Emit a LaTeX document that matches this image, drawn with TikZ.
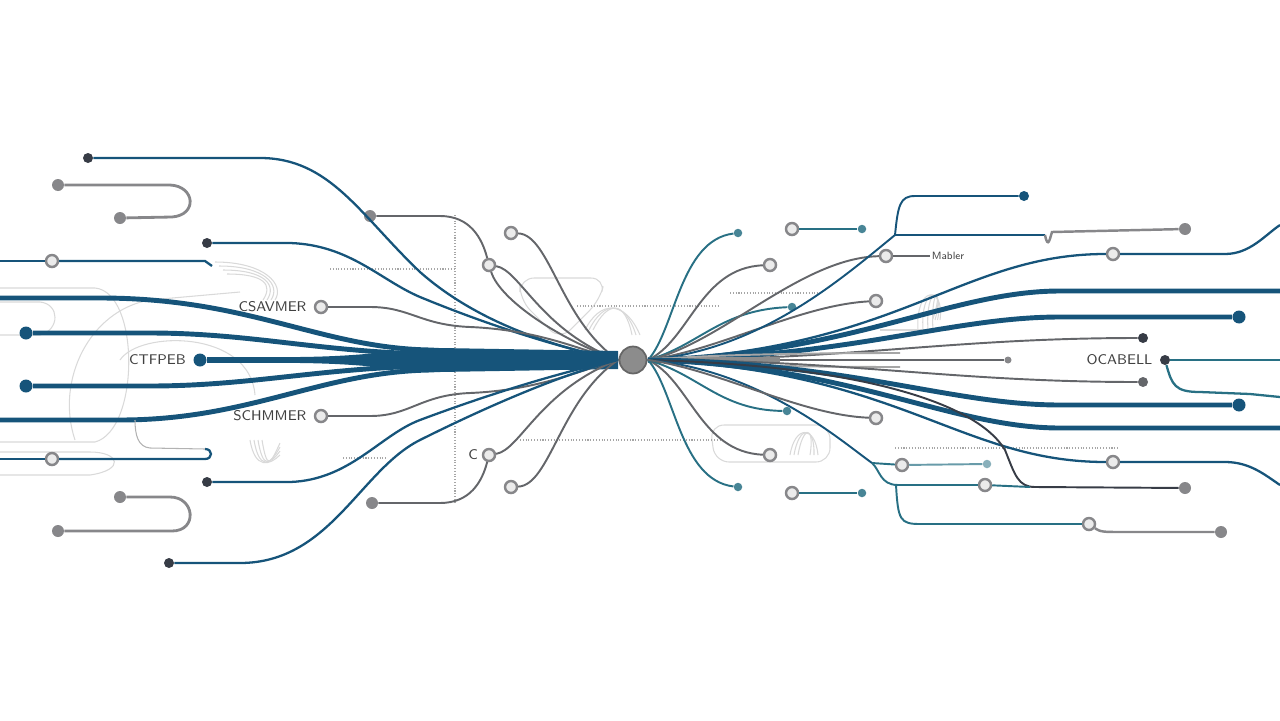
\documentclass[tikz,border=0pt]{standalone}
\usetikzlibrary{positioning}
\definecolor{wire}{RGB}{22,84,122}
\definecolor{tealw}{RGB}{40,112,132}
\definecolor{greyw}{RGB}{100,102,106}
\definecolor{beaddark}{RGB}{55,60,70}
\definecolor{beadgrey}{RGB}{135,135,138}
\begin{document}
\begin{tikzpicture}[x=0.02cm,y=-0.02cm,
  bead/.style={circle,fill=beaddark,inner sep=0pt,minimum size=0.2cm},
  greybead/.style={bead,fill=beadgrey,minimum size=0.24cm},
  bluebead/.style={bead,fill=wire,minimum size=0.26cm},
  tealbead/.style={bead,fill=tealw!85,minimum size=0.17cm},
  eyelet/.style={circle,draw=beadgrey,line width=1.4pt,fill=black!8,inner sep=0pt,minimum size=0.24cm},
  lab/.style={font=\sffamily\fontsize{8}{9}\selectfont,text=black!75,inner sep=1pt},
  wirethin/.style={draw=wire,line width=1.3pt},
  wirebold/.style={draw=wire,line width=2.8pt},
  greywire/.style={draw=greyw,line width=1.1pt},
  tealwire/.style={draw=tealw,line width=1.1pt},
  faintline/.style={draw=black!15,line width=0.6pt},
  dots/.style={draw=black!35,line width=0.6pt,densely dotted}]
\useasboundingbox (0,0) rectangle (1280,720);
\coordinate (hw) at (618,360);
\coordinate (he) at (648,360);

\draw[faintline] (0,288) -- (95,288) .. controls (140,292) and (140,430) .. (95,442) -- (0,442);
\draw[faintline] (0,302) -- (40,302) .. controls (60,304) and (60,330) .. (40,335) -- (0,335);
\draw[faintline] (0,452) -- (90,452) .. controls (120,452) and (125,470) .. (90,475) -- (0,475);
\draw[faintline] (75,440) .. controls (55,380) and (90,310) .. (150,300) -- (240,292);
\draw[faintline] (120,360) .. controls (140,330) and (250,330) .. (255,395);
\foreach \i in {0,4,8,12}
  \draw[faintline] (215+\i,262+\i) .. controls (265,262+\i) and (285-\i,285) .. (275-\i,300);
\foreach \i in {0,4,8,12}
  \draw[faintline] (250+\i,440) .. controls (255+\i,470) and (270,465) .. (280,455-\i);
\foreach \i in {0,5,10,15}
  \draw[faintline] (918+\i,330) .. controls (915+\i,285) and (945,285) .. (940-\i/2,320);
\draw[faintline] (880,330) -- (950,330);
\draw[faintline,rounded corners=8pt] (520,278) -- (605,278) -- (600,300) -- (560,340) -- (520,300) -- cycle;
\foreach \i in {0,4,8}
  \draw[faintline] (585+\i,330) .. controls (600+\i,300) and (625,300) .. (640-\i,335);
\draw[faintline,rounded corners=8pt] (710,425) -- (830,425) -- (830,462) -- (715,462) -- cycle;
\foreach \i in {0,4,8}
  \draw[faintline] (790+\i,455) .. controls (795+\i,425) and (815,425) .. (818-\i,455);

\draw[dots] (455,215) -- (455,503);
\draw[dots] (330,269) -- (455,269);
\draw[dots] (577,306) -- (720,306);
\draw[dots] (520,440) -- (720,440);
\draw[dots] (730,293) -- (820,293);
\draw[dots] (895,448) -- (1118,448);
\draw[dots] (343,458) -- (387,458);

\node[bead] (l1) at (88,158) {};
\node[greybead] (g1) at (58,185) {};
\node[greybead] (g2) at (120,218) {};
\node[bead] (l3) at (207,243) {};
\node[greybead] (l4) at (370,216) {};
\node[eyelet] (l5) at (52,261) {};
\node[eyelet] (l6) at (511,233) {};
\node[eyelet] (l7) at (489,265) {};
\node[eyelet] (l9) at (321,307) {};
\node[lab,left=3pt of l9] {CSAVMER};
\node[bluebead] (l10) at (26,333) {};
\node[bluebead] (l11) at (200,360) {};
\node[lab,left=3pt of l11] {CTFPEB};
\node[bluebead] (l12) at (26,386) {};
\node[eyelet] (l14) at (321,416) {};
\node[lab,left=3pt of l14] {SCHMMER};
\node[eyelet] (l15) at (52,459) {};
\node[bead] (l16) at (207,482) {};
\node[eyelet] (l17) at (489,455) {};
\node[lab,left=1pt of l17] {C};
\node[eyelet] (l18) at (511,487) {};
\node[greybead] (l19) at (372,503) {};
\node[greybead] (g3) at (120,497) {};
\node[greybead] (g4) at (58,531) {};
\node[bead] (l21) at (169,563) {};
\coordinate (e5) at (0,261);
\coordinate (e8) at (0,298);
\coordinate (e13) at (0,420);
\coordinate (e15) at (0,459);

\draw[wirethin] (l1) -- (260,158) .. controls (330,158) and (360,215) .. (420,272) .. controls (480,325) and (560,348) .. (hw);
\draw[greywire,line width=1.6pt,draw=beadgrey] (g1) -- (170,185) .. controls (195,186) and (198,215) .. (172,217) -- (g2);
\draw[wirethin] (l3) -- (290,243) .. controls (350,245) and (380,280) .. (420,297) .. controls (500,330) and (570,350) .. (hw);
\draw[greywire] (l4) -- (440,216) .. controls (470,216) and (482,238) .. (l7);
\draw[wirethin] (e5) -- (l5);
\draw[wirethin] (l5) -- (205,261) -- (212,266);
\draw[greywire] (l6) .. controls (550,235) and (560,320) .. (hw);
\draw[greywire] (l7) .. controls (520,270) and (540,330) .. (hw);
\draw[greywire] (l7) .. controls (500,300) and (560,340) .. (hw);
\draw[wirebold] (e8) -- (100,298) .. controls (250,298) and (320,348) .. (430,350) -- (hw);
\draw[greywire] (l9) -- (370,307) .. controls (410,307) and (420,325) .. (470,327) .. controls (540,330) and (580,350) .. (hw);
\draw[wirebold] (l10) -- (150,333) .. controls (250,333) and (320,352) .. (430,354) -- (hw);
\fill[wire] (300,357) .. controls (380,356) and (400,348) .. (440,348) -- (618,351) -- (618,369) -- (440,372) .. controls (400,372) and (380,364) .. (300,363) -- cycle;
\draw[wire,line width=3.5pt] (l11) -- (hw);
\draw[wirebold] (l12) -- (150,386) .. controls (250,386) and (320,368) .. (430,366) -- (hw);
\draw[wirebold] (e13) -- (120,420) .. controls (250,420) and (320,372) .. (430,370) -- (hw);
\draw[greywire] (l14) -- (370,416) .. controls (410,416) and (420,395) .. (470,393) .. controls (540,390) and (580,370) .. (hw);
\draw[wirethin] (e15) -- (l15);
\draw[wirethin] (l15) -- (205,459) .. controls (213,459) and (213,449) .. (205,449);
\draw[faintline,draw=black!30] (205,449) -- (150,448) .. controls (138,447) and (135,435) .. (135,420);
\draw[wirethin] (l16) -- (290,482) .. controls (350,480) and (380,435) .. (420,420) .. controls (500,390) and (570,370) .. (hw);
\draw[greywire] (l17) .. controls (520,450) and (540,390) .. (hw);
\draw[greywire] (l18) .. controls (550,485) and (560,400) .. (hw);
\draw[greywire] (l19) -- (440,503) .. controls (470,503) and (482,482) .. (l17);
\draw[greywire,line width=1.6pt,draw=beadgrey] (g3) -- (170,497) .. controls (195,497) and (198,531) .. (172,531) -- (g4);
\draw[wirethin] (l21) -- (240,563) .. controls (330,563) and (360,470) .. (420,440) .. controls (500,400) and (570,372) .. (hw);

\node[tealbead] (r1) at (738,233) {};
\node[eyelet] (r2) at (792,229) {};
\node[tealbead] (r2b) at (862,229) {};
\node[eyelet] (r3) at (770,265) {};
\node[tealbead] (r4) at (792,307) {};
\node[eyelet] (r5) at (876,301) {};
\node[eyelet] (r6) at (886,256) {};
\node[lab,font=\sffamily\fontsize{6}{7}\selectfont] (m6) at (948,256) {Mabler};
\node[bead,fill=wire] (r7) at (1024,196) {};
\node[greybead] (r8) at (1185,229) {};
\node[eyelet] (r9) at (1113,254) {};
\node[bluebead] (r11) at (1239,317) {};
\node[bead] (r12) at (1143,338) {};
\node[bead,fill=beadgrey,minimum size=0.14cm] (r13) at (1008,360) {};
\node[bead] (r14) at (1165,360) {};
\node[lab,left=3pt of r14] {OCABELL};
\node[bead,fill=greyw] (r15) at (1143,382) {};
\node[bluebead] (r16) at (1239,405) {};
\node[eyelet] (r18) at (1113,462) {};
\node[greybead] (r19) at (1185,488) {};
\node[eyelet] (r20) at (902,465) {};
\node[tealbead,fill=tealw!55] (r20b) at (987,464) {};
\node[eyelet] (r21) at (985,485) {};
\node[eyelet] (r27) at (1089,524) {};
\node[greybead] (r28) at (1221,532) {};
\node[eyelet] (r22) at (770,455) {};
\node[tealbead] (r23) at (738,487) {};
\node[eyelet] (r24) at (792,493) {};
\node[tealbead] (r24b) at (862,493) {};
\node[tealbead] (r25) at (787,411) {};
\node[eyelet] (r26) at (876,418) {};
\coordinate (k0) at (895,235);
\coordinate (k1) at (872,463);
\coordinate (x9) at (1280,225);
\coordinate (x10) at (1280,291);
\coordinate (x14) at (1280,360);
\coordinate (x14b) at (1280,397);
\coordinate (x17) at (1280,428);
\coordinate (x18) at (1280,485);

\draw[tealwire] (he) .. controls (675,330) and (680,240) .. (r1);
\draw[tealwire] (r2) -- (r2b);
\draw[greywire] (he) .. controls (690,340) and (700,268) .. (r3);
\draw[tealwire] (he) .. controls (700,345) and (720,310) .. (r4);
\draw[greywire] (he) .. controls (720,350) and (800,305) .. (r5);
\draw[greywire] (he) .. controls (720,345) and (800,258) .. (r6);
\draw[greywire,line width=0.6pt] (r6) -- (m6);
\draw[wirethin,line width=1.1pt] (he) .. controls (760,350) and (840,280) .. (k0) -- (1045,235);
\draw[wirethin,line width=1.1pt] (k0) .. controls (898,205) and (900,196) .. (915,196) -- (r7);
\draw[greywire,line width=1.4pt,draw=beadgrey] (1045,235) .. controls (1048,250) and (1050,238) .. (1052,232) -- (r8);
\draw[wirethin] (he) .. controls (900,350) and (960,254) .. (r9);
\draw[wirethin] (r9) -- (1225,254) .. controls (1250,254) and (1265,235) .. (x9);
\draw[wirebold] (he) .. controls (850,355) and (950,291) .. (1060,291) -- (x10);
\draw[wirebold] (he) .. controls (850,358) and (950,317) .. (1060,317) -- (r11);
\draw[greywire] (he) .. controls (850,360) and (950,338) .. (r12);
\draw[greywire,line width=0.9pt] (he) -- (r13);
\draw[greywire,line width=3pt,draw=black!45] (he) -- (780,360);
\draw[greywire,draw=black!35] (he) .. controls (700,355) and (800,353) .. (900,353);
\draw[greywire,draw=black!35] (he) .. controls (700,365) and (800,367) .. (900,367);
\draw[tealwire,line width=1.3pt] (r14) -- (x14);
\draw[tealwire,line width=1.3pt] (r14) .. controls (1172,385) and (1175,392) .. (1200,392) -- (1250,394) -- (x14b);
\draw[greywire] (he) .. controls (850,360) and (950,382) .. (r15);
\draw[wirebold] (he) .. controls (850,362) and (950,405) .. (1060,405) -- (r16);
\draw[wirebold] (he) .. controls (850,365) and (950,428) .. (1060,428) -- (x17);
\draw[wirethin] (he) .. controls (900,370) and (960,462) .. (r18);
\draw[wirethin] (r18) -- (1225,462) .. controls (1250,462) and (1265,475) .. (x18);
\draw[greywire,draw=beaddark] (he) .. controls (850,365) and (975,400) .. (1005,450) .. controls (1015,475) and (1018,487) .. (1035,487) -- (r19);
\draw[wirethin,line width=1.1pt] (he) .. controls (760,370) and (840,440) .. (k1);
\draw[tealwire] (k1) -- (r20);
\draw[tealwire,draw=tealw!70] (r20) -- (r20b);
\draw[tealwire] (k1) .. controls (880,470) and (880,485) .. (898,485) -- (r21);
\draw[tealwire] (r21) -- (1030,487);
\draw[tealwire] (896,485) .. controls (898,520) and (900,524) .. (920,524) -- (r27);
\draw[greywire,draw=beadgrey,line width=1.4pt] (r27) .. controls (1100,532) and (1105,532) .. (1120,532) -- (r28);
\draw[greywire] (he) .. controls (690,380) and (700,452) .. (r22);
\draw[tealwire] (he) .. controls (675,390) and (680,480) .. (r23);
\draw[tealwire] (r24) -- (r24b);
\draw[tealwire] (he) .. controls (700,375) and (720,410) .. (r25);
\draw[greywire] (he) .. controls (720,370) and (800,415) .. (r26);

\node[circle,fill=black!45,draw=black!60,line width=1pt,minimum size=0.54cm] (hub) at (633,360) {};
\end{tikzpicture}
\end{document}
